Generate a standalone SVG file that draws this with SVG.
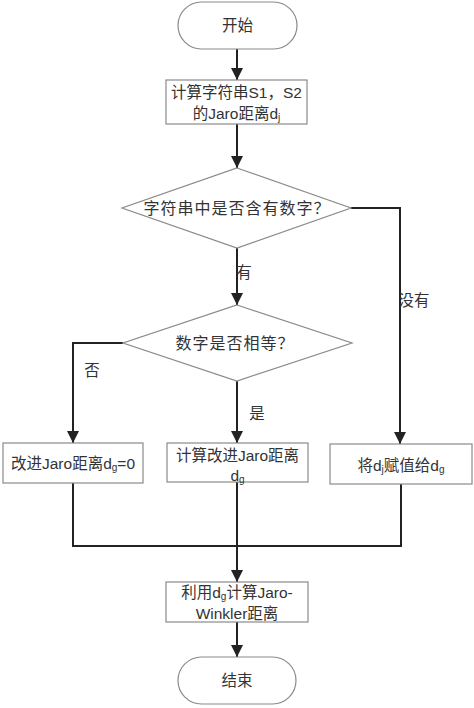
<svg xmlns="http://www.w3.org/2000/svg" width="474" height="708" viewBox="0 0 474 708">
<style>
.node{fill:#fff;stroke:#8a8a8a;stroke-width:1.2}
.t{font-family:"Liberation Sans","Noto Sans CJK SC",sans-serif;font-size:15.5px;fill:#333;text-anchor:middle;dominant-baseline:central}
.d{font-size:16px;letter-spacing:1px}
.sub{font-size:10px;letter-spacing:0}
.c{fill:none;stroke:#222;stroke-width:2}
</style>
<defs>
<marker id="ah" markerUnits="userSpaceOnUse" markerWidth="12" markerHeight="12" refX="12" refY="6" orient="auto">
<path d="M0,0 L12,6 L0,12 z" fill="#222"/>
</marker>
</defs>
<rect width="474" height="708" fill="#fff"/>
<g id="connectors">
<path class="c" d="M237,49 V80" marker-end="url(#ah)"/>
<path class="c" d="M237,124 V168" marker-end="url(#ah)"/>
<path class="c" d="M237,248 V305" marker-end="url(#ah)"/>
<path class="c" d="M351,208 H400 V444" marker-end="url(#ah)"/>
<path class="c" d="M123,343 H73 V443" marker-end="url(#ah)"/>
<path class="c" d="M237,381 V443" marker-end="url(#ah)"/>
<path class="c" d="M73,483 V546 H401 V484"/>
<path class="c" d="M237,482 V582" marker-end="url(#ah)"/>
<path class="c" d="M237,622 V657" marker-end="url(#ah)"/>
<text class="t" x="244" y="272">有</text>
<text class="t" x="414" y="300">没有</text>
<text class="t" x="92" y="370">否</text>
<text class="t" x="257" y="413">是</text>
</g>
<g id="start">
<rect class="node" x="178" y="2" width="119" height="47" rx="23.5"/>
<text class="t" x="237.5" y="25.5">开始</text>
</g>
<g id="jaro">
<rect class="node" x="166" y="80" width="141" height="44"/>
<text class="t" x="236.5" y="92">计算字符串S1，S2</text>
<text class="t" x="236.5" y="113">的Jaro距离d<tspan class="sub" dy="4">j</tspan></text>
</g>
<g id="hasdigit">
<polygon class="node" points="237,168 351,208 237,248 122,208"/>
<text class="t d" x="237" y="208">字符串中是否含有数字？</text>
</g>
<g id="equal">
<polygon class="node" points="237,305 352,343 237,381 123,343"/>
<text class="t d" x="235" y="343">数字是否相等？</text>
</g>
<g id="zero">
<rect class="node" x="3" y="443" width="140" height="40"/>
<text class="t" x="73" y="463">改进Jaro距离d<tspan class="sub" dy="4">g</tspan><tspan dy="-4">=0</tspan></text>
</g>
<g id="improved">
<rect class="node" x="167" y="443" width="141" height="39"/>
<text class="t" x="237.5" y="455">计算改进Jaro距离</text>
<text class="t" x="237.5" y="475">d<tspan class="sub" dy="4">g</tspan></text>
</g>
<g id="assign">
<rect class="node" x="330" y="444" width="142" height="40"/>
<text class="t" x="401" y="465">将d<tspan class="sub" dy="4">j</tspan><tspan dy="-4">赋值给d</tspan><tspan class="sub" dy="4">g</tspan></text>
</g>
<g id="winkler">
<rect class="node" x="166" y="582" width="142" height="40"/>
<text class="t" x="237" y="592">利用d<tspan class="sub" dy="4">g</tspan><tspan dy="-4">计算Jaro-</tspan></text>
<text class="t" x="237" y="613">Winkler距离</text>
</g>
<g id="end">
<rect class="node" x="178" y="657" width="118" height="47" rx="23.5"/>
<text class="t" x="237" y="680">结束</text>
</g>
</svg>
